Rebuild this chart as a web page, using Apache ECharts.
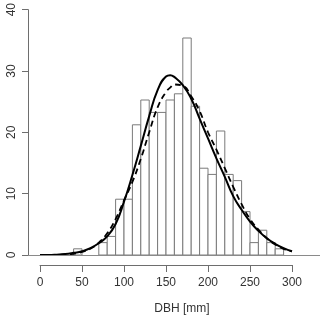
<!DOCTYPE html>
<html>
<head>
<meta charset="utf-8">
<script src="https://cdn.jsdelivr.net/npm/echarts@6/dist/echarts.min.js"></script>
<style>html,body{margin:0;padding:0;background:#fff}#c{width:320px;height:320px}</style>
</head>
<body>
<div id="c"></div>
<script>
// Histogram: left edge of each 10 mm bin and its count
const binLeft = [40,50,60,70,80,90,100,110,120,130,140,150,160,170,180,190,200,210,220,230,240,250,260,270,280];
const binWidth = 10;
const counts  = [1,0,0,2,3,9,9,21,25,23,23,25,26,35,24,14,13,20,13,12,7,2,4,2,1];

// Fitted curves
const curveX  = [0,10,20,30,40,50,60,70,80,90,100,110,120,130,140,150,155,160,170,180,190,200,210,220,230,240,250,260,270,280,290,300];
const solidY  = [0,0,0.05,0.15,0.35,0.6,1.1,1.9,3.0,5.0,8.6,12.9,17.6,22.4,26.6,28.8,29.0,28.7,27.4,25.2,22.0,18.8,15.6,12.6,9.5,7.3,5.4,3.9,2.7,1.8,1.1,0.6];
const dashedY = [0,0,0.02,0.08,0.2,0.5,1.0,2.0,3.5,5.8,8.8,11.8,15.5,19.8,23.8,26.3,27.0,27.5,27.3,25.6,23.2,19.8,17.0,14.0,11.0,8.2,5.8,4.1,2.7,1.7,1.0,0.6];

const xTicks = [0,50,100,150,200,250,300];
const yTicks = [0,10,20,30,40];
const xLabel = 'DBH [mm]';

const histData = binLeft.map((b,i)=>[b, b+binWidth, counts[i]]);
const solidData = curveX.map((x,i)=>[x, solidY[i]]);
const dashedData = curveX.map((x,i)=>[x, dashedY[i]]);

const chart = echarts.init(document.getElementById('c'), null, {renderer:'canvas'});
const axisColor = '#6e6e6e';
const txt = '#333';
chart.setOption({
  animation:false,
  backgroundColor:'#fff',
  grid:[
    {left:28, right:0, top:0, bottom:55},
    {left:40, right:28, top:0, bottom:55},
    {left:28, width:10, top:7, bottom:65}
  ],
  xAxis:[
    {gridIndex:0, type:'value', min:-14.29, max:333.33, show:false},
    {gridIndex:1, type:'value', min:xTicks[0], max:xTicks[xTicks.length-1], interval:50,
     axisLine:{show:true, onZero:false, lineStyle:{color:axisColor, width:1}},
     axisTick:{show:true, length:7, lineStyle:{color:axisColor}},
     axisLabel:{fontSize:12, color:txt, margin:12, fontFamily:'Liberation Sans, Arial, sans-serif'},
     splitLine:{show:false}},
    {gridIndex:2, type:'value', show:false}
  ],
  yAxis:[
    {gridIndex:0, type:'value', min:-1.61, max:41.13, show:false},
    {gridIndex:1, type:'value', show:false},
    {gridIndex:2, type:'value', min:yTicks[0], max:yTicks[yTicks.length-1], interval:10,
     axisLine:{show:true, onZero:false, lineStyle:{color:axisColor, width:1}},
     axisTick:{show:true, length:6, lineStyle:{color:axisColor}},
     axisLabel:{fontSize:12, color:txt, rotate:90, margin:10, fontFamily:'Liberation Sans, Arial, sans-serif'},
     splitLine:{show:false}}
  ],
  graphic:[
    {type:'text', x:182, y:309, style:{text:xLabel, align:'center', verticalAlign:'middle', font:'12px "Liberation Sans", Arial, sans-serif', fill:txt}}
  ],
  series:[
    {
      type:'custom', xAxisIndex:0, yAxisIndex:0, data:histData,
      renderItem:function(params, api){
        const x0 = api.value(0), x1 = api.value(1), c = api.value(2);
        if (c <= 0) return null;
        const p0 = api.coord([x0, 0]);
        const p1 = api.coord([x1, c]);
        return {type:'rect', shape:{x:p0[0], y:p1[1], width:p1[0]-p0[0], height:p0[1]-p1[1]},
                style:{fill:'#fff', stroke:'#7a7a7a', lineWidth:1}};
      },
      markLine:{silent:true, symbol:['none','none'], label:{show:false},
        lineStyle:{color:'#8a8a8a', type:'solid', width:1.2}, data:[{yAxis:0}]}
    },
    {type:'line', xAxisIndex:0, yAxisIndex:0, data:dashedData, smooth:true, showSymbol:false,
     lineStyle:{color:'#000', width:1.8, type:[6,4]}},
    {type:'line', xAxisIndex:0, yAxisIndex:0, data:solidData, smooth:true, showSymbol:false,
     lineStyle:{color:'#000', width:2}}
  ]
});
</script>
</body>
</html>
